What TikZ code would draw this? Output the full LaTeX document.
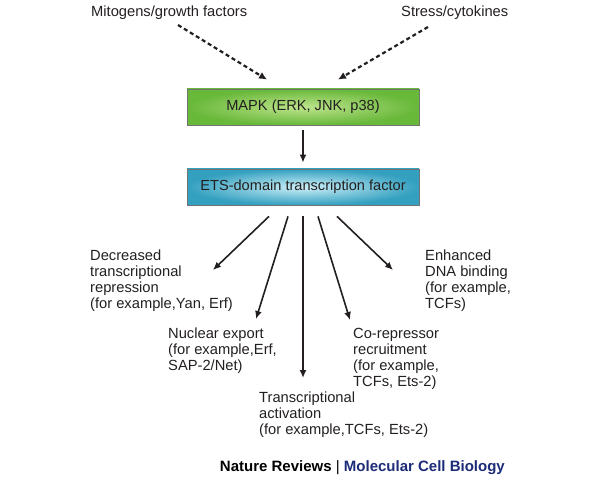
\documentclass[tikz,border=0pt]{standalone}
\usepackage{fontspec}
\setmainfont{Liberation Sans}
\usepackage{xcolor}
\usepackage{tikz}
\usetikzlibrary{arrows.meta,positioning,calc}
\definecolor{mapkedge}{RGB}{104,184,58}
\definecolor{mapkmid}{RGB}{190,228,140}
\definecolor{etsedge}{RGB}{52,160,192}
\definecolor{etsmid}{RGB}{205,240,248}
\definecolor{inkgray}{RGB}{35,31,32}
\definecolor{natblue}{RGB}{28,44,120}
\tikzset{
  lab/.style={font=\fontsize{14.7}{16}\selectfont,text=inkgray,align=left,inner sep=0pt,anchor=north west},
  mapkbox/.style={rectangle,draw=black!55,line width=.8pt,minimum width=232pt,minimum height=36pt,inner sep=0pt,
    inner color=mapkmid,outer color=mapkedge,font=\fontsize{14.6}{16}\selectfont,text=inkgray},
  etsbox/.style={rectangle,draw=black!55,line width=.8pt,minimum width=232pt,minimum height=36pt,inner sep=0pt,
    inner color=etsmid,outer color=etsedge,font=\fontsize{14.6}{16}\selectfont,text=inkgray},
  act/.style={line width=1.6pt,inkgray,-{Latex[length=8pt,width=7pt]}},
  upstream/.style={line width=2.2pt,inkgray,dash pattern=on 4pt off 3pt,-{Latex[length=8pt,width=7.5pt]}}
}

\begin{document}
\begin{tikzpicture}[x=1pt,y=-1pt]
  \useasboundingbox (0,0) rectangle (600,481);

  % stimuli
  \node[lab] (mito) at (91,6) {Mitogens/growth factors};
  \node[lab] (stress) at (401,6) {Stress/cytokines};

  % kinase and target
  \node[mapkbox] (mapk) at (303,107) {MAPK (ERK, JNK, p38)};
  \node[etsbox] (ets) at (303,187) {ETS-domain transcription factor};

  \coordinate (mitoout) at (178,25);
  \coordinate (stressout) at (428,27);
  \draw[upstream] (mitoout) -- ([xshift=-36pt,yshift=9pt]mapk.north);
  \draw[upstream] (stressout) -- ([xshift=35pt,yshift=9pt]mapk.north);
  \draw[act] ([yshift=-5pt]mapk.south) -- ([yshift=6pt]ets.north);

  % outcomes
  \node[lab] (decr) at (90,250) {Decreased\\transcriptional\\repression\\(for example,Yan, Erf)};
  \node[lab] (nucl) at (168,328) {Nuclear export\\(for example,Erf,\\SAP-2/Net)};
  \node[lab] (trans) at (259,392) {Transcriptional\\activation\\(for example,TCFs, Ets-2)};
  \node[lab] (corep) at (353,328) {Co-repressor\\recruitment\\(for example,\\TCFs, Ets-2)};
  \node[lab] (enh) at (425,250) {Enhanced\\DNA binding\\(for example,\\TCFs)};

  \coordinate (decrin) at (213,270);
  \coordinate (nuclin) at (256,319);
  \coordinate (transin) at (303,378);
  \coordinate (corepin) at (350,320);
  \coordinate (enhin) at (393,270);
  \draw[act] ([xshift=-34pt,yshift=-11pt]ets.south) -- (decrin);
  \draw[act] ([xshift=-15pt,yshift=-11pt]ets.south) -- (nuclin);
  \draw[act] ([yshift=-11pt]ets.south) -- (transin);
  \draw[act] ([xshift=15pt,yshift=-11pt]ets.south) -- (corepin);
  \draw[act] ([xshift=34pt,yshift=-11pt]ets.south) -- (enhin);

  % journal credit
  \node[font=\fontsize{15}{16}\selectfont\bfseries,inner sep=0pt,anchor=base east] (credit) at (505,471)
    {Nature Reviews {\mdseries|} \textcolor{natblue}{Molecular Cell Biology}};
\end{tikzpicture}
\end{document}
